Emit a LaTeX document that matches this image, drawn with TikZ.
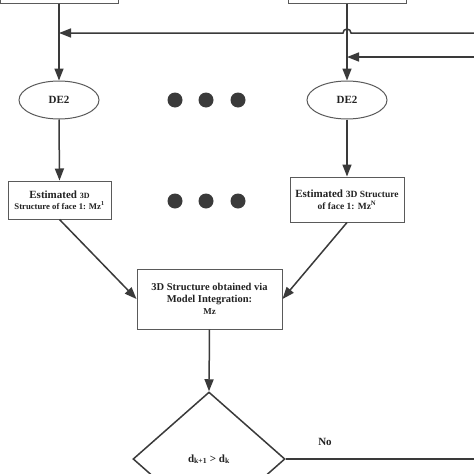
\documentclass[tikz,border=0pt]{standalone}
\usepackage{fontspec}
\setmainfont{Liberation Serif}
\usetikzlibrary{arrows.meta,shapes.geometric}
\definecolor{ln}{HTML}{3A3A3A}
\definecolor{bx}{HTML}{5A5A5A}
\definecolor{tx}{HTML}{222222}
\tikzset{
  line/.style={draw=ln, line width=1.5pt},
  arrow/.style={line, -{Triangle[length=12pt,width=9pt]}},
  box/.style={draw=bx, line width=1pt, fill=white, inner sep=1pt, align=center, text=tx, font=\bfseries},
  ell/.style={ellipse, draw=bx, line width=1pt, minimum width=80pt, minimum height=38pt, inner sep=0pt, text=tx, font=\fontsize{11}{13}\selectfont\bfseries},
  bigdot/.style={circle, fill=ln, minimum size=15pt, inner sep=0pt},
  dia/.style={diamond, draw=ln, line width=1.5pt, minimum width=152pt, minimum height=134pt, inner sep=0pt, text=tx, font=\fontsize{11}{13}\selectfont\bfseries},
  lbl/.style={text=tx, font=\fontsize{11}{13}\selectfont\bfseries}
}
\begin{document}
\begin{tikzpicture}[x=1pt,y=-1pt]
\useasboundingbox (0,0) rectangle (474,474);
\clip (0,0) rectangle (474,474);
\fill[white] (0,0) rectangle (474,474);
% top boxes (cut off)
\node[box, minimum width=118pt, minimum height=40pt] (t1) at (59,-17) {};
\node[box, minimum width=118pt, minimum height=40pt] (t2) at (347,-17) {};
% ellipses
\node[ell] (e1) at (59,100) {DE2};
\node[ell] (e2) at (347,100) {DE2};
% dots
\node[bigdot] (da1) at (175,100) {};
\node[bigdot] (da2) at (206,100) {};
\node[bigdot] (da3) at (238,100) {};
\node[bigdot] (db1) at (175,201) {};
\node[bigdot] (db2) at (206,201) {};
\node[bigdot] (db3) at (238,201) {};
% estimated boxes
\node[box, minimum width=103pt, minimum height=38pt] (s1) at (59.5,200)
  {{\fontsize{11}{14}\selectfont Estimated \fontsize{8}{14}\selectfont 3D}\\[-1pt]
   {\fontsize{8.7}{10}\selectfont Structure of face 1: Mz\textsuperscript{1}}};
\node[box, minimum width=114pt, minimum height=45pt] (s2) at (347,199.5)
  {{\fontsize{11}{14}\selectfont Estimated \fontsize{9.5}{14}\selectfont 3D Structure}\\[0pt]
   {\fontsize{9.5}{11}\selectfont of face 1: Mz\textsuperscript{N}}};
% model integration box
\node[box, minimum width=145pt, minimum height=60pt] (m) at (209.5,299)
  {\fontsize{10.5}{14}\selectfont 3D Structure obtained via\\
   \fontsize{10.5}{14}\selectfont Model Integration:\\
   \fontsize{9}{14}\selectfont Mz};
% decision
\node[dia] (d) at (209,459) {d\textsubscript{k+1} > d\textsubscript{k}};
\node[lbl] (no) at (325,442) {No};
% coordinates
\coordinate (r1) at (480,33);
\coordinate (j1) at (59,33);
\coordinate (h1) at (351,33);
\coordinate (r2) at (480,57);
\coordinate (j2) at (347,57);
\coordinate (noend) at (480,459);
% connectors
\draw[arrow] (t1.south) -- (e1.north);
\draw[arrow] (t2.south) -- (e2.north);
\draw[arrow] (r1) -- (h1) arc(0:-180:4) -- (j1);
\draw[arrow] (r2) -- (j2);
\draw[arrow] (e1.south) -- (s1.north);
\draw[arrow] (e2.south) -- (s2.north);
\draw[arrow] (s1.south) -- (m.west);
\draw[arrow] (s2.south) -- (m.east);
\draw[arrow] (m.south) -- (d.north);
\draw[line] (d.east) -- (noend);
\end{tikzpicture}
\end{document}
